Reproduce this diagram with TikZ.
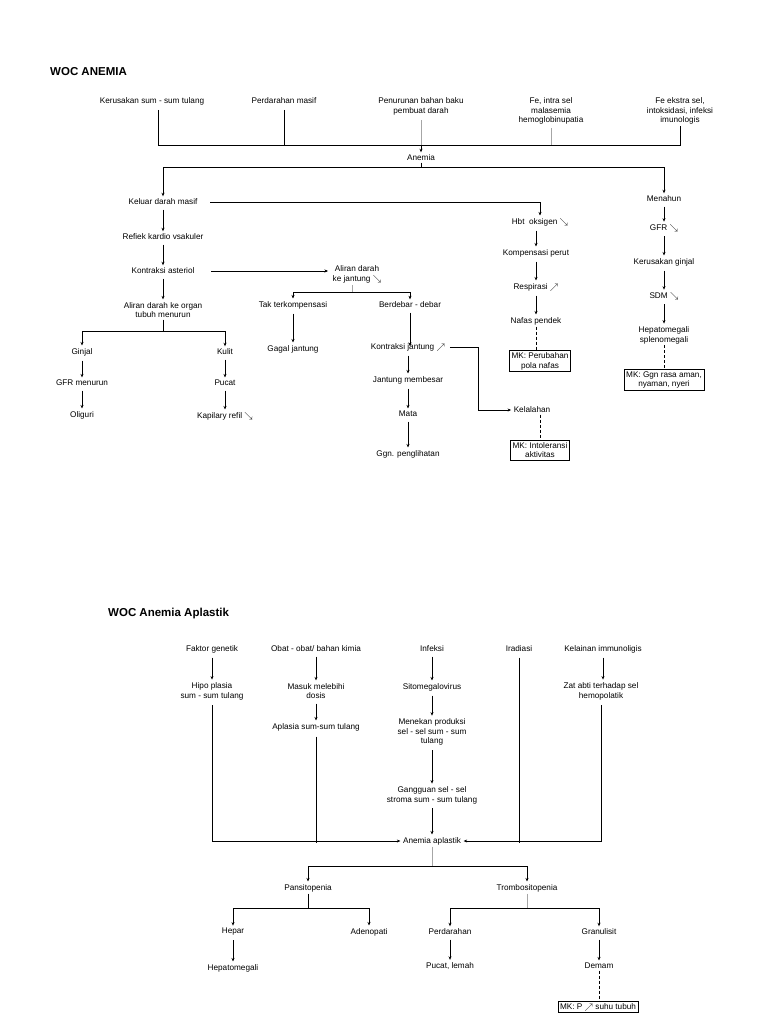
\documentclass[tikz,border=0pt]{standalone}
\usepackage{fontspec}
\setmainfont{Liberation Sans}
\usetikzlibrary{arrows.meta}
\begin{document}
\begin{tikzpicture}[x=1pt,y=-1pt,
 t/.style={font=\fontsize{8.2}{9.8}\selectfont,align=center,inner sep=1.5pt},
 ttl/.style={font=\bfseries\fontsize{11.5}{13}\selectfont,anchor=west,inner sep=0},
 a/.style={-{Stealth[length=3.5pt,width=3pt]},line width=0.6pt,shorten >=1pt,shorten <=3pt},
 l/.style={line width=0.6pt},
 g/.style={line width=0.5pt,gray!70},
 mk/.style={t,draw,line width=0.6pt,inner sep=2pt},
 d/.style={densely dashed,line width=0.5pt}]
\useasboundingbox (0,0) rectangle (768,1024);
% ===== WOC ANEMIA =====
\node[ttl] (T1) at (50,72) {WOC ANEMIA};
\node[t] (c1) at (152,101) {Kerusakan sum - sum tulang};
\node[t] (c2) at (284,101) {Perdarahan masif};
\node[t] (c3) at (421,106) {Penurunan bahan baku\\pembuat darah};
\node[t] (c4) at (551,111) {Fe, intra sel\\malasemia\\hemoglobinupatia};
\node[t] (c5) at (680,111) {Fe ekstra sel,\\intoksidasi, infeksi\\imunologis};
\node[t] (an) at (421,158) {Anemia};
\coordinate (j1) at (158,145); \coordinate (j5) at (680,145);
\draw[l] (158,110) -- (j1) -- (j5) -- (680,126);
\draw[l] (284,110) -- (284,145);
\draw[g] (551,128) -- (551,145);
\draw[g] (421,120) -- (421,145);
\draw[a,shorten <=0pt] (421,145) -- (an);
% branches from Anemia
\node[t] (k1) at (163,202) {Keluar darah masif};
\node[t] (mn) at (664,199) {Menahun};
\draw[l] (an) -- (421,167);
\draw[a,shorten <=0pt] (421,167) -| (k1);
\draw[a,shorten <=0pt] (421,167) -| (mn);
% left column
\node[t] (k2) at (163,237) {Refiek kardio vsakuler};
\node[t] (k3) at (163,271) {Kontraksi asteriol};
\node[t] (k4) at (163,310) {Aliran darah ke organ\\tubuh menurun};
\draw[a] (k1) -- (k2); \draw[a] (k2) -- (k3); \draw[a] (k3) -- (k4);
\node[t] (gi) at (82,352) {Ginjal};
\node[t] (gf) at (82,383) {GFR menurun};
\node[t] (ol) at (82,415) {Oliguri};
\node[t] (ku) at (225,352) {Kulit};
\node[t] (pu) at (225,383) {Pucat};
\node[t] (kr) at (225,416) {Kapilary refil $\searrow$};
\draw[l] (k4) -- (163,331);
\draw[a,shorten <=0pt] (163,331) -| (gi);
\draw[a,shorten <=0pt] (163,331) -| (ku);
\draw[a] (gi) -- (gf); \draw[a] (gf) -- (ol);
\draw[a] (ku) -- (pu); \draw[a] (pu) -- (kr.north -| pu);
% middle
\node[t] (aj) at (357,274) {Aliran darah\\ke jantung $\searrow$};
\draw[a,line width=0.4pt] ([xshift=12pt]k3.east) -- ([xshift=-2pt]aj.west |- k3);
\node[t] (tk) at (293,305) {Tak terkompensasi};
\node[t] (gj) at (293,349) {Gagal jantung};
\node[t] (bd) at (410,305) {Berdebar - debar};
\node[t] (kj) at (408,347) {Kontraksi jantung $\nearrow$};
\node[t] (jm) at (408,380) {Jantung membesar};
\node[t] (ma) at (408,414) {Mata};
\node[t] (gp) at (408,454) {Ggn. penglihatan};
\draw[g] (352,285) -- (352,292);
\draw[a,line width=0.4pt,shorten <=0pt] (352,292) -| (tk);
\draw[a,line width=0.4pt,shorten <=0pt] (352,292) -| (bd);
\draw[a] (tk) -- (gj); \draw[a] (bd) -- (kj -| bd);
\draw[a] (kj) -- (jm); \draw[a] (jm) -- (ma); \draw[a] (ma) -- (gp);
\node[t] (ke) at (532,410) {Kelalahan};
\draw[a,line width=0.4pt] (kj.east) -- (478,347) |- (ke.west);
\node[mk] (mk2) at (540,450) {MK: Intoleransi\\aktivitas};
\draw[d] (ke.south -| mk2) -- (mk2);
% right-middle column
\node[t] (hb) at (540,222) {Hbt\ \ oksigen $\searrow$};
\draw[a,line width=0.4pt] ([xshift=8pt]k1.east) -| (hb.north -| 540,0);
\node[t] (kp) at (536,253) {Kompensasi perut};
\node[t] (re) at (536,287) {Respirasi $\nearrow$};
\node[t] (np) at (536,321) {Nafas pendek};
\node[mk] (mk1) at (540,361) {MK: Perubahan\\pola nafas};
\draw[a] (hb.south -| 536,0) -- (kp); \draw[a] (kp) -- (re.north -| kp); \draw[a] (re.south -| kp) -- (np);
\draw[d] (np) -- (mk1.north -| np);
% right column
\node[t] (gr) at (664,228) {GFR $\searrow$};
\node[t] (kg) at (664,262) {Kerusakan ginjal};
\node[t] (sd) at (664,296) {SDM $\searrow$};
\node[t] (hp) at (664,335) {Hepatomegali\\splenomegali};
\node[mk] (mk3) at (664,380) {MK: Ggn rasa aman,\\nyaman, nyeri};
\draw[a] (mn) -- (gr.north -| mn); \draw[a] (gr.south -| mn) -- (kg);
\draw[a] (kg) -- (sd.north -| kg); \draw[a] (sd.south -| kg) -- (hp);
\draw[d] (hp) -- (mk3);
% ===== WOC ANEMIA APLASTIK =====
\node[ttl] (T2) at (108,614) {WOC Anemia Aplastik};
\node[t] (f1) at (212,649) {Faktor genetik};
\node[t] (f2) at (316,649) {Obat - obat/ bahan kimia};
\node[t] (f3) at (432,649) {Infeksi};
\node[t] (f4) at (519,649) {Iradiasi};
\node[t] (f5) at (603,649) {Kelainan immunoligis};
\node[t] (h1) at (212,691) {Hipo plasia\\sum - sum tulang};
\node[t] (h2) at (316,691) {Masuk melebihi\\dosis};
\node[t] (h3) at (432,687) {Sitomegalovirus};
\node[t] (h5) at (601,691) {Zat abti terhadap sel\\hemopolatik};
\node[t] (ap) at (316,727) {Aplasia sum-sum tulang};
\node[t] (me) at (432,732) {Menekan produksi\\sel - sel sum - sum\\tulang};
\node[t] (gs) at (432,795) {Gangguan sel - sel\\stroma sum - sum tulang};
\node[t] (aa) at (432,841) {Anemia aplastik};
\draw[a] (f1) -- (h1); \draw[a] (f2) -- (h2); \draw[a] (f3) -- (h3); \draw[a] (f5) -- (h5.north -| f5);
\draw[a] (h2) -- (ap); \draw[a] (h3) -- (me); \draw[a] (me) -- (gs); \draw[a] (gs) -- (aa);
\draw[a,shorten <=4pt] (h1) |- (aa.west);
\draw[l,shorten <=4pt] (ap) -- (316,843);
\draw[a,shorten <=4pt] (h5.south -| 601,0) |- (aa.east);
\draw[l,shorten <=4pt] (f4) -- (519,843);
\node[t] (ps) at (308,888) {Pansitopenia};
\node[t] (tr) at (527,888) {Trombositopenia};
\draw[g] (aa) -- (432,866);
\draw[a,shorten <=0pt] (432,866) -| (ps);
\draw[a,shorten <=0pt] (432,866) -| (tr);
\node[t] (he) at (233,932) {Hepar};
\node[t] (ad) at (369,932) {Adenopati};
\node[t] (hm) at (233,968) {Hepatomegali};
\node[t] (pd) at (450,932) {Perdarahan};
\node[t] (gn) at (599,932) {Granulisit};
\node[t] (pl) at (450,966) {Pucat, lemah};
\node[t] (de) at (599,966) {Demam};
\draw[l] (ps) -- (308,908);
\draw[a,shorten <=0pt] (308,908) -| (he);
\draw[a,shorten <=0pt] (308,908) -| (ad);
\draw[g] (tr) -- (527,908);
\draw[a,shorten <=0pt] (527,908) -| (pd);
\draw[a,shorten <=0pt] (527,908) -| (gn);
\draw[a] (he) -- (hm); \draw[a] (pd) -- (pl); \draw[a] (gn) -- (de);
\node[mk] (mk4) at (598,1007) {MK: P $\nearrow$ suhu tubuh};
\draw[d] (de) -- (mk4.north -| de);
\end{tikzpicture}
\end{document}
